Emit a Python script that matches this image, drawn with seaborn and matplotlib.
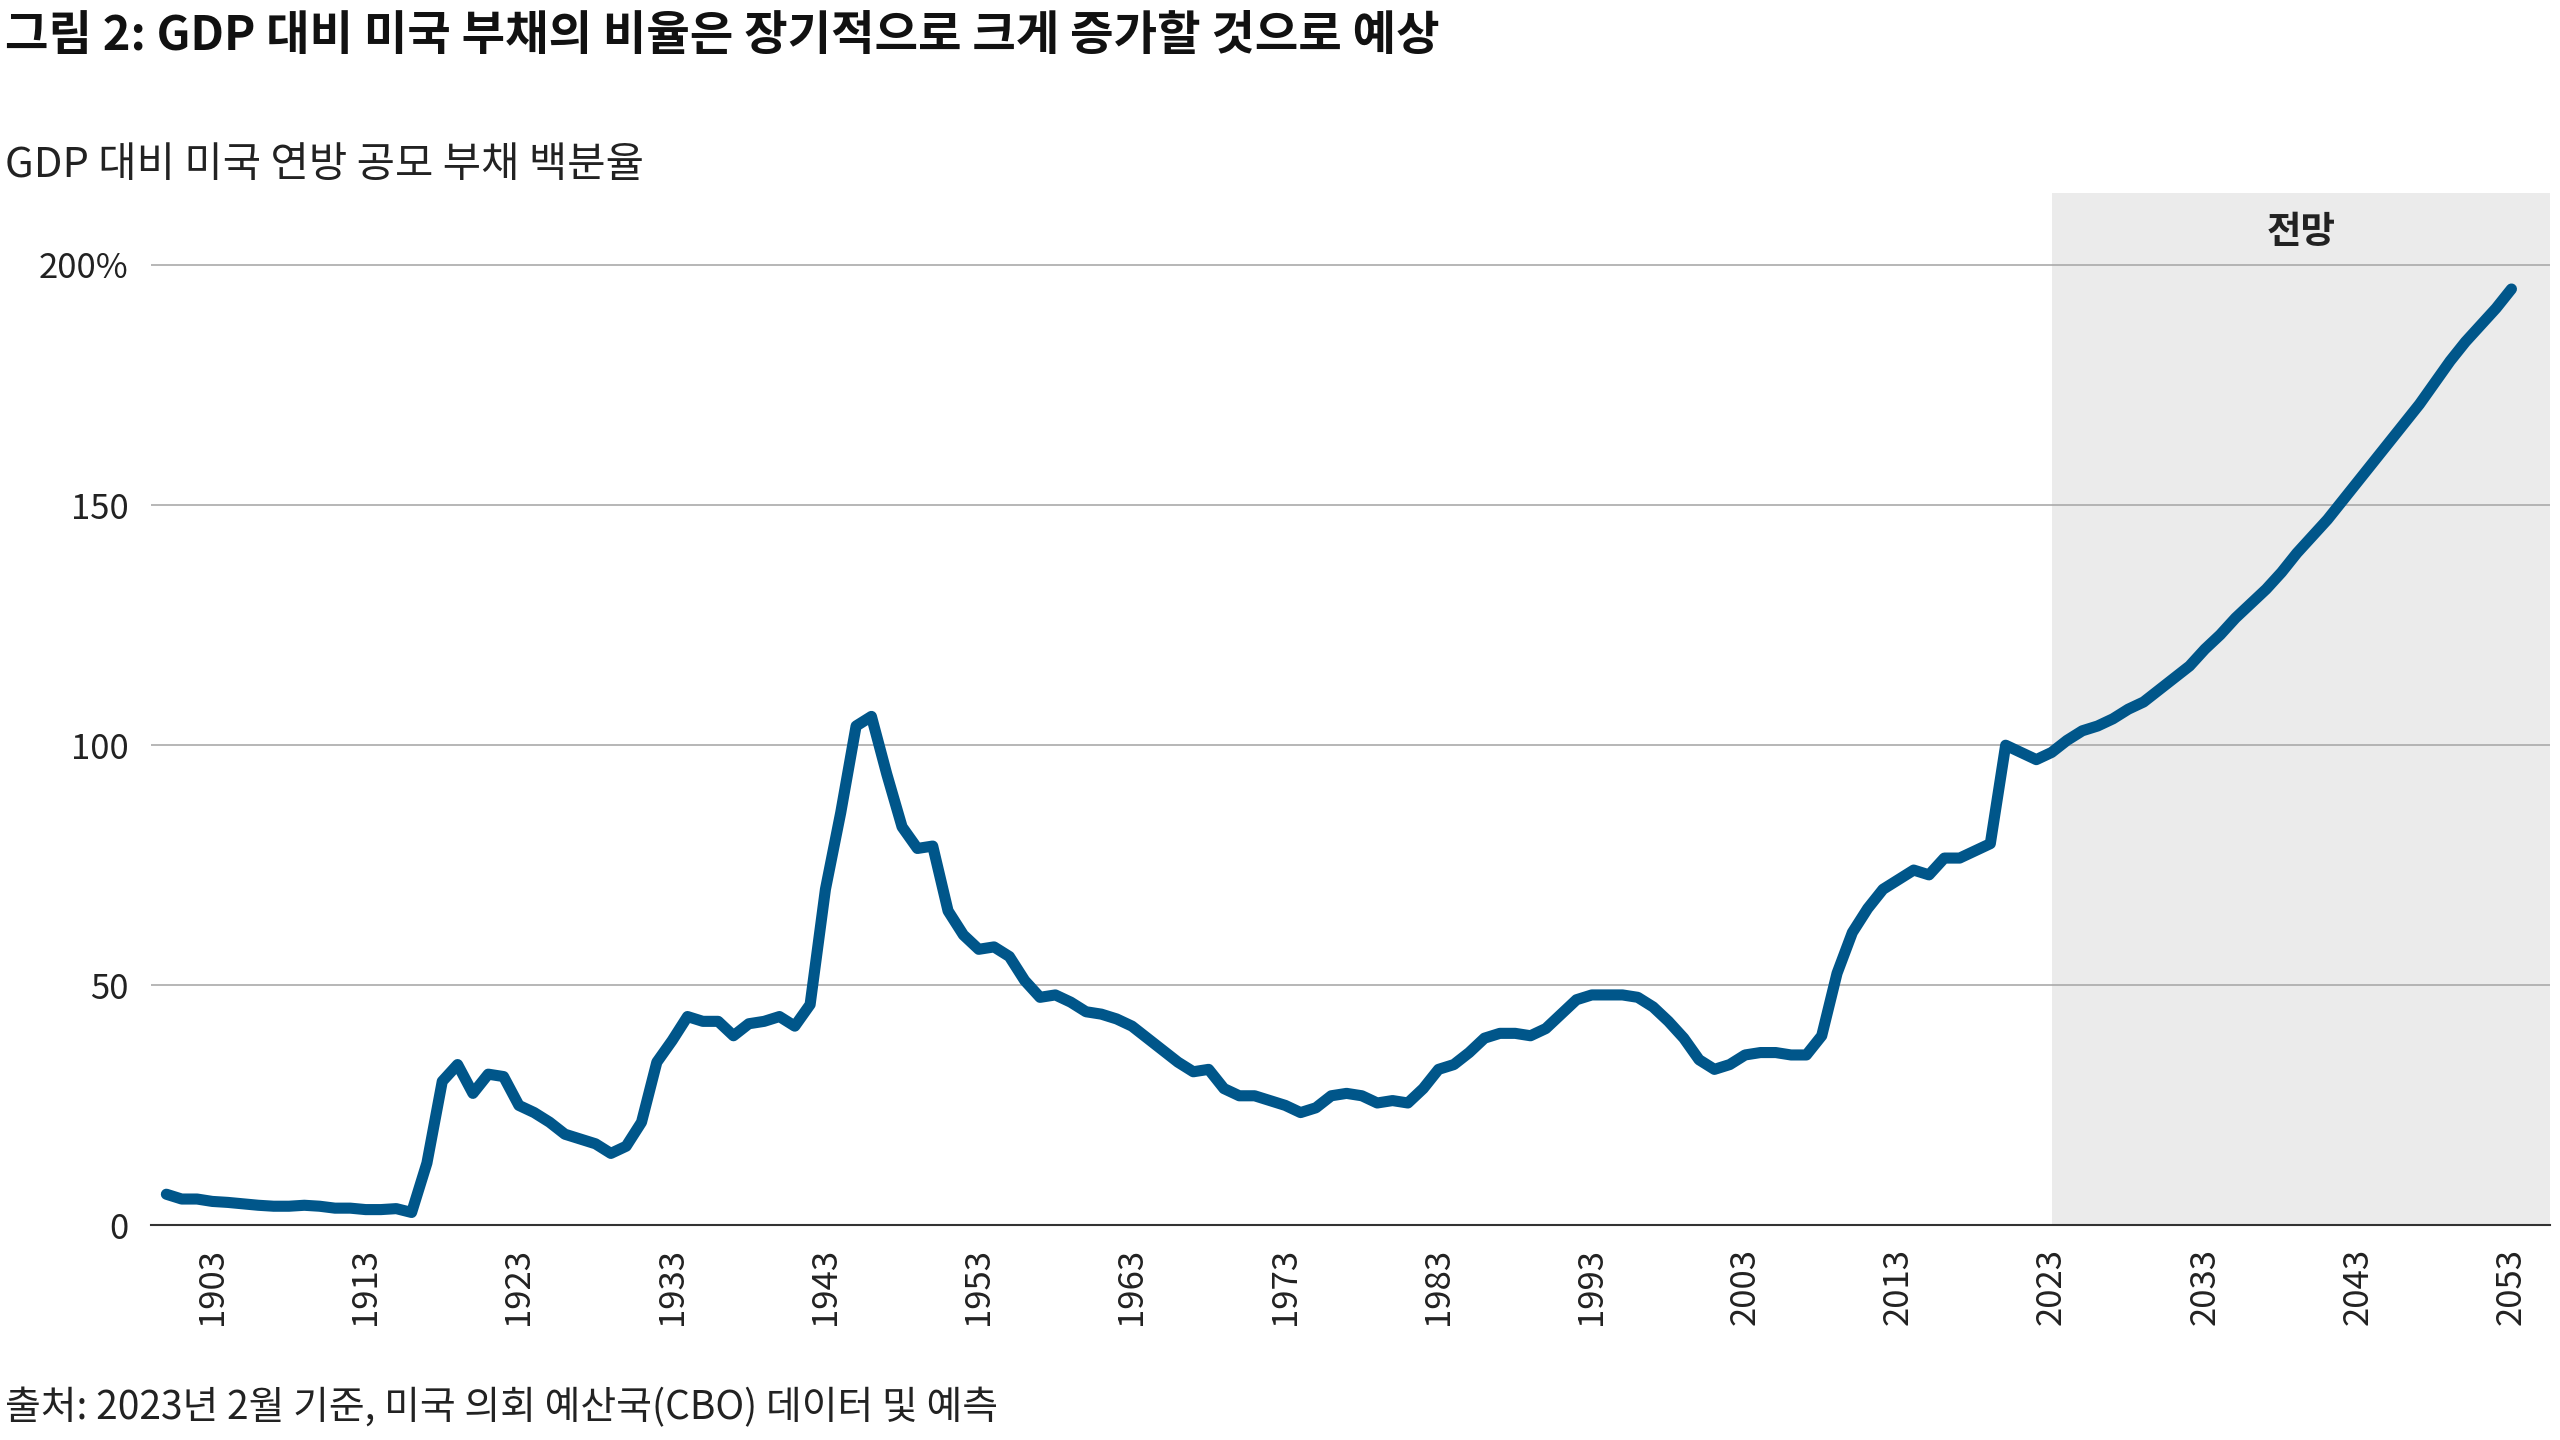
import numpy as np
import pandas as pd
import matplotlib
matplotlib.use('Agg')
import matplotlib.pyplot as plt
import seaborn as sns

# 연도별 GDP 대비 연방 부채 (%) - 그림에서 읽은 값
years = list(range(1900, 2054))
debt = [
    6.5, 5.5, 5.5, 5.0, 4.8, 4.5, 4.2, 4.0, 4.0, 4.2,
    4.0, 3.6, 3.6, 3.3, 3.3, 3.5, 2.7, 13.0, 30.0, 33.5,
    27.5, 31.5, 31.0, 25.0, 23.5, 21.5, 19.0, 18.0, 17.0, 15.0,
    16.5, 21.5, 34.0, 38.5, 43.5, 42.5, 42.5, 39.5, 42.0, 42.5,
    43.5, 41.5, 46.0, 70.0, 86.0, 104.0, 106.0, 94.0, 83.0, 78.5,
    79.0, 65.5, 60.5, 57.5, 58.0, 56.0, 51.0, 47.5, 48.0, 46.5,
    44.5, 44.0, 43.0, 41.5, 39.0, 36.5, 34.0, 32.0, 32.5, 28.5,
    27.0, 27.0, 26.0, 25.0, 23.5, 24.5, 27.0, 27.5, 27.0, 25.5,
    26.0, 25.5, 28.5, 32.5, 33.5, 36.0, 39.0, 40.0, 40.0, 39.5,
    41.0, 44.0, 47.0, 48.0, 48.0, 48.0, 47.5, 45.5, 42.5, 39.0,
    34.5, 32.5, 33.5, 35.5, 36.0, 36.0, 35.5, 35.5, 39.5, 52.5,
    61.0, 66.0, 70.0, 72.0, 74.0, 73.0, 76.5, 76.5, 78.0, 79.5,
    100.0, 98.5, 97.0, 98.5, 101.0, 103.0, 104.0, 105.5, 107.5, 109.0,
    111.5, 114.0, 116.5, 120.0, 123.0, 126.5, 129.5, 132.5, 136.0, 140.0,
    143.5, 147.0, 151.0, 155.0, 159.0, 163.0, 167.0, 171.0, 175.5, 180.0,
    184.0, 187.5, 191.0, 195.0,
]
tick_years = list(range(1903, 2054, 10))
y_ticks = [0, 50, 100, 150, 200]
y_labels = ['0', '50', '100', '150', '200%']
forecast_start = 2023

df = pd.DataFrame({'year': years, 'debt': debt})

sns.set_style('white')
plt.rcParams['font.family'] = ['Noto Sans CJK KR', 'DejaVu Sans']

fig = plt.figure(figsize=(25.6, 14.4), dpi=100)
ax = fig.add_axes([0.059, 0.149, 0.937, 0.717])

ax.axvspan(forecast_start, 2055.5, color='#ebebeb', zorder=0, lw=0)
for y in y_ticks[1:]:
    ax.axhline(y, color='#aaaaaa', lw=1.2, zorder=1)

sns.lineplot(data=df, x='year', y='debt', ax=ax, color='#00568a', lw=8,
             solid_capstyle='round', zorder=3)

ax.set_xlim(1899, 2055.5)
ax.set_ylim(0, 215)
ax.set_xticks(tick_years)
ax.set_xticklabels([str(t) for t in tick_years], rotation=90, fontsize=25, color='#222222')
ax.set_yticks(y_ticks)
ax.set_yticklabels(y_labels, fontsize=25, color='#222222')
ax.tick_params(axis='x', length=10, color='#333333', width=1.2, pad=6)
ax.tick_params(axis='y', length=0, pad=16)
ax.set_xlabel('')
ax.set_ylabel('')
for s in ['top', 'right', 'left']:
    ax.spines[s].set_visible(False)
ax.spines['bottom'].set_color('#333333')
ax.spines['bottom'].set_linewidth(1.5)

ax.text((forecast_start + 2055.5) / 2, 207, '전망', ha='center', va='center',
        fontsize=27, fontweight='bold', color='#222222')

fig.text(0.002, 0.975, '그림 2: GDP 대비 미국 부채의 비율은 장기적으로 크게 증가할 것으로 예상',
         fontsize=34, fontweight='bold', va='center', color='#111111')
fig.text(0.002, 0.885, 'GDP 대비 미국 연방 공모 부채 백분율', fontsize=30, va='center', color='#222222')
fig.text(0.002, 0.022, '출처: 2023년 2월 기준, 미국 의회 예산국(CBO) 데이터 및 예측',
         fontsize=28, va='center', color='#222222')

fig.savefig('out.png', dpi=100)
